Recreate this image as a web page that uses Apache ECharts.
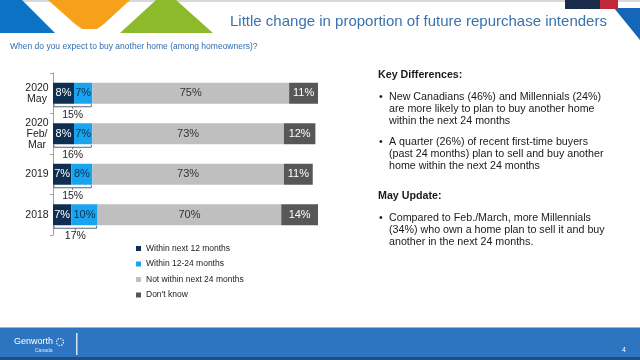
<!DOCTYPE html>
<html><head><meta charset="utf-8">
<script src="https://cdn.jsdelivr.net/npm/echarts@6/dist/echarts.min.js"></script>
<style>html,body{margin:0;padding:0;background:#fff}#c{width:640px;height:360px}</style>
</head><body><div id="c"></div>
<script>
const categories = ['2020\nMay', '2020\nFeb/\nMar', '2019', '2018'];
const seriesNames = ['Within next 12 months', 'Within 12-24 months', 'Not within next 24 months', "Don't know"];
const within12 = [8, 8, 7, 7];
const within24 = [7, 7, 8, 10];
const notWithin24 = [75, 73, 73, 70];
const dontKnow = [11, 12, 11, 14];
const netLabels = [15, 16, 15, 17];

const colors = ['#0f2f52', '#19a4ef', '#bfbfbf', '#575757'];
const labelColors = ['#ffffff', '#0f2f52', '#333333', '#ffffff'];
const seriesData = [within12, within24, notWithin24, dontKnow];
const FONT = '"Liberation Sans", Arial, sans-serif';

const chart = echarts.init(document.getElementById('c'), null, {renderer: 'canvas'});

const barSeries = seriesData.map((d, i) => ({
  name: seriesNames[i], type: 'bar', stack: 'total', barWidth: 21,
  data: d, itemStyle: {color: colors[i]},
  label: {show: true, position: 'inside', formatter: '{c}%', color: labelColors[i], fontSize: 11, fontFamily: FONT},
  emphasis: {disabled: true}, animation: false
}));

const bracketData = categories.map((c, i) => [i, within12[i] + within24[i], netLabels[i]]);

const bracketSeries = {
  type: 'custom', name: 'net', silent: true, animation: false,
  encode: {x: 1, y: 0},
  data: bracketData,
  renderItem(params, api) {
    const idx = api.value(0);
    const p0 = api.coord([0, idx]);
    const p1 = api.coord([api.value(1), idx]);
    const y = p0[1] + 13.5;
    const xa = p0[0] + 1, xb = p1[0] - 1, xm = (xa + xb) / 2;
    const st = {stroke: '#5a6a7a', lineWidth: 1, fill: null};
    return {type: 'group', children: [
      {type: 'polyline', shape: {points: [[xa, y - 2.5], [xa, y], [xb, y], [xb, y - 2.5]]}, style: st},
      {type: 'line', shape: {x1: xm, y1: y, x2: xm, y2: y + 2}, style: st},
      {type: 'text', style: {text: api.value(2) + '%', x: xm, y: y + 8, align: 'center', verticalAlign: 'middle', fill: '#222', font: '10.5px ' + FONT}}
    ]};
  }
};

function txt(x, y, s, bold) {
  return {type: 'text', left: x, top: y, silent: true,
    style: {text: s, fontSize: 10.7, fontWeight: bold ? 'bold' : 'normal', fontFamily: FONT, lineHeight: 12, fill: '#1a1a1a'}};
}

chart.setOption({
  animation: false,
  grid: {left: 53, right: 322, top: 73, bottom: 125, containLabel: false},
  xAxis: {type: 'value', min: 0, max: 101, show: false},
  yAxis: {type: 'category', inverse: true, data: categories,
    axisLine: {show: true, lineStyle: {color: '#a0a0a0'}},
    axisTick: {show: true, length: 3, lineStyle: {color: '#a0a0a0'}},
    axisLabel: {align: 'center', margin: 16, color: '#222', fontSize: 10.5, lineHeight: 11, fontFamily: FONT}
  },
  legend: {orient: 'vertical', left: 131, top: 239, itemWidth: 5, itemHeight: 5, itemGap: 6.5,
    icon: 'rect', data: seriesNames, selectedMode: false,
    textStyle: {fontSize: 8.5, color: '#222', fontFamily: FONT}},
  series: [...barSeries, bracketSeries],
  graphic: [
    {type: 'rect', silent: true, shape: {x: 0, y: 0, width: 640, height: 2}, style: {fill: '#d8d8d8'}},
    {type: 'polygon', silent: true, shape: {points: [[0, 0], [22, 0], [55, 33], [0, 33]]}, style: {fill: '#0b72c4'}},
    {type: 'polygon', silent: true, shape: {points: [[48, 0], [130, 0], [104, 24], [97, 29], [82, 29], [75, 24]]}, style: {fill: '#f7a11a'}},
    {type: 'polygon', silent: true, shape: {points: [[120, 33], [156, 0], [176, 0], [213, 33]]}, style: {fill: '#8cba2b'}},
    {type: 'polygon', silent: true, shape: {points: [[614, 8], [640, 8], [640, 40]]}, style: {fill: '#1565b8'}},
    {type: 'rect', silent: true, shape: {x: 565, y: 0, width: 50, height: 9}, style: {fill: '#1b2c4a'}},
    {type: 'rect', silent: true, shape: {x: 600, y: 0, width: 18, height: 9}, style: {fill: '#c0283a'}},
    {type: 'text', silent: true, left: 230, top: 14, style: {text: 'Little change in proportion of future repurchase intenders', font: '15px ' + FONT, fill: '#3a72ad'}},
    {type: 'text', silent: true, left: 10, top: 42, style: {text: 'When do you expect to buy another home (among homeowners)?', font: '8.5px ' + FONT, fill: '#2f6db0'}},
    txt(378, 69, 'Key Differences:', true),
    txt(379, 91, '•'),
    txt(389, 91, 'New Canadians (46%) and Millennials (24%)\nare more likely to plan to buy another home\nwithin the next 24 months'),
    txt(379, 136, '•'),
    txt(389, 136, 'A quarter (26%) of recent first-time buyers\n(past 24 months) plan to sell and buy another\nhome within the next 24 months'),
    txt(378, 190, 'May Update:', true),
    txt(379, 212, '•'),
    txt(389, 212, 'Compared to Feb./March, more Millennials\n(34%) who own a home plan to sell it and buy\nanother in the next 24 months.'),
    {type: 'rect', silent: true, shape: {x: 0, y: 327, width: 640, height: 33}, style: {fill: '#2e75c1'}},
    {type: 'rect', silent: true, shape: {x: 0, y: 327, width: 640, height: 1}, style: {fill: '#8ab8e4'}},
    {type: 'rect', silent: true, shape: {x: 0, y: 357, width: 640, height: 3}, style: {fill: '#1d4f86'}},
    {type: 'text', silent: true, left: 14, top: 337, style: {text: 'Genworth', font: '9px ' + FONT, fill: '#ffffff'}},
    {type: 'text', silent: true, left: 35, top: 348, style: {text: 'Canada', font: '5px ' + FONT, fill: '#dce9f7'}},
    {type: 'circle', silent: true, shape: {cx: 60, cy: 342, r: 3.5}, style: {fill: null, stroke: '#e8f0fa', lineWidth: 1.2, lineDash: [1.5, 1.2]}},
    {type: 'rect', silent: true, shape: {x: 76, y: 333, width: 1.5, height: 22}, style: {fill: '#d8e6f5'}},
    {type: 'text', silent: true, left: 622, top: 347, style: {text: '4', font: '7px ' + FONT, fill: '#ffffff'}}
  ]
});
</script></body></html>
